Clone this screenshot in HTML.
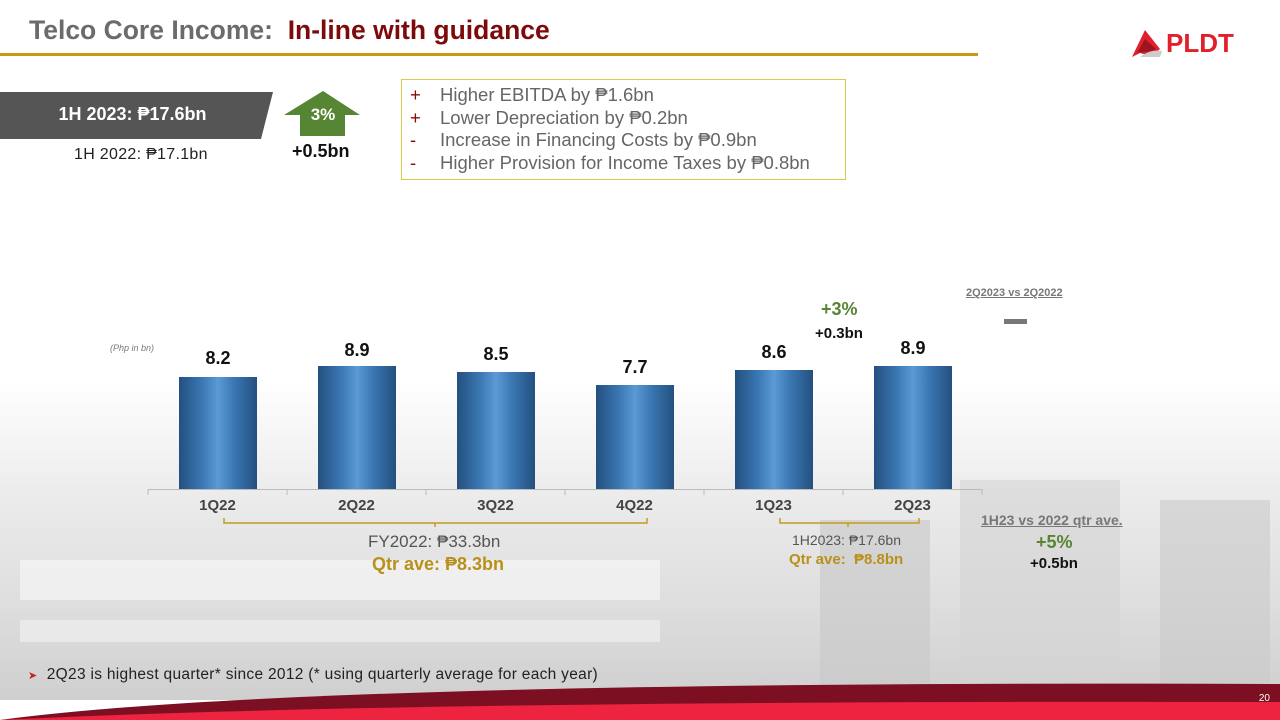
<!DOCTYPE html>
<html><head><meta charset="utf-8"><style>
*{margin:0;padding:0;box-sizing:border-box}
body{width:1280px;height:720px;overflow:hidden;position:relative;background:#fff;font-family:"Liberation Sans",Arial,sans-serif}
.a{position:absolute;white-space:nowrap}
.bar{position:absolute;width:78px;background:linear-gradient(90deg,#24507f 0%,#3b78b4 30%,#5b9ad6 50%,#3b78b4 70%,#24507f 100%)}
.v{position:absolute;width:78px;text-align:center;font-weight:bold;font-size:18px;color:#111}
.q{position:absolute;width:139px;text-align:center;font-weight:bold;font-size:15px;color:#444}
</style></head><body>
<div class="a" style="left:0;top:380px;width:1280px;height:320px;background:linear-gradient(180deg,rgba(255,255,255,1) 0%,rgba(236,236,236,1) 35%,#dedede 70%,#cfcfcf 100%)"></div>
<div class="a" style="left:20px;top:560px;width:640px;height:40px;background:#f2f2f2;opacity:.8"></div>
<div class="a" style="left:20px;top:620px;width:640px;height:22px;background:#ececec;opacity:.8"></div>
<div class="a" style="left:820px;top:520px;width:110px;height:170px;background:#c8c8c8;opacity:.6"></div>
<div class="a" style="left:960px;top:480px;width:160px;height:210px;background:#d4d4d4;opacity:.6"></div>
<div class="a" style="left:1160px;top:500px;width:110px;height:190px;background:#cacaca;opacity:.6"></div>
<svg class="a" style="left:0;top:680px" width="1280" height="40">
<path d="M0 40 Q300 0 1280 4 L1280 40 Z" fill="#7d0f22"/>
<path d="M0 40 Q400 20 1280 22 L1280 40 Z" fill="#ee2340"/>
</svg>
<div class="a" style="right:10px;top:693px;font-size:10px;color:#fff">20</div>

<div class="a" style="left:29px;top:15px;font-size:26.5px;font-weight:bold;color:#6b6b6b">Telco Core Income:&nbsp; <span style="color:#7d0a0a">In-line with guidance</span></div>
<div class="a" style="left:0;top:53px;width:978px;height:3px;background:#c39c1c"></div>
<svg class="a" style="left:1130px;top:27px" width="34" height="32"><path d="M2 30 L15 3 L30 22 Q22 30 10 26 Z" fill="#e2202c"/><path d="M6 28 L15 12 L26 22 Q18 26 8 25Z" fill="#9c1520"/><path d="M10 30 Q20 22 32 24 L30 30 Z" fill="#ccc"/></svg>
<div class="a" style="left:1166px;top:28px;font-size:26px;font-weight:bold;color:#e2202c">PLDT</div>

<svg class="a" style="left:0;top:92px" width="275" height="47"><path d="M0 0 H273 L261 47 H0Z" fill="#555"/></svg>
<div class="a" style="left:0;top:104px;width:265px;text-align:center;font-size:18px;font-weight:bold;color:#fff">1H 2023: ₱17.6bn</div>
<div class="a" style="left:74px;top:146px;font-size:16px;letter-spacing:0.3px;color:#222">1H 2022: ₱17.1bn</div>
<svg class="a" style="left:284px;top:90px" width="78" height="47"><path d="M0 25 L39 1 L76 25 L61 25 L61 46 L16 46 L16 25Z" fill="#568533"/></svg>
<div class="a" style="left:300px;top:105px;width:46px;text-align:center;font-size:17px;font-weight:bold;color:#fff">3%</div>
<div class="a" style="left:292px;top:141px;font-size:18px;font-weight:bold;color:#111">+0.5bn</div>

<div class="a" style="left:401px;top:79px;width:445px;height:101px;border:1px solid #d6cc45"></div>
<div class="a" style="left:410px;top:84px;font-size:18.5px;line-height:22.5px;color:#666">
<div><span style="color:#8b0a0a;display:inline-block;width:30px">+</span>Higher EBITDA by ₱1.6bn</div>
<div><span style="color:#8b0a0a;display:inline-block;width:30px">+</span>Lower Depreciation by ₱0.2bn</div>
<div><span style="color:#8b0a0a;display:inline-block;width:30px">-</span>Increase in Financing Costs by ₱0.9bn</div>
<div><span style="color:#8b0a0a;display:inline-block;width:30px">-</span>Higher Provision for Income Taxes by ₱0.8bn</div>
</div>

<div class="a" style="left:110px;top:343px;font-size:9px;font-style:italic;color:#777">(Php in bn)</div>
<div class="bar" style="left:179px;top:377px;height:112px"></div>
<div class="bar" style="left:318px;top:366px;height:123px"></div>
<div class="bar" style="left:457px;top:372px;height:117px"></div>
<div class="bar" style="left:596px;top:385px;height:104px"></div>
<div class="bar" style="left:735px;top:370px;height:119px"></div>
<div class="bar" style="left:874px;top:366px;height:123px"></div>
<div class="v" style="left:179px;top:348px">8.2</div>
<div class="v" style="left:318px;top:340px">8.9</div>
<div class="v" style="left:457px;top:344px">8.5</div>
<div class="v" style="left:596px;top:357px">7.7</div>
<div class="v" style="left:735px;top:342px">8.6</div>
<div class="v" style="left:874px;top:338px">8.9</div>
<div class="a" style="left:148px;top:489px;width:834px;height:1px;background:#bbb"></div>
<svg class="a" style="left:147px;top:489px" width="837" height="7"><g stroke="#bbb"><line x1="1" y1="0" x2="1" y2="6"/><line x1="140" y1="0" x2="140" y2="6"/><line x1="279" y1="0" x2="279" y2="6"/><line x1="418" y1="0" x2="418" y2="6"/><line x1="557" y1="0" x2="557" y2="6"/><line x1="696" y1="0" x2="696" y2="6"/><line x1="835" y1="0" x2="835" y2="6"/></g></svg>
<div class="q" style="left:148px;top:497px">1Q22</div>
<div class="q" style="left:287px;top:497px">2Q22</div>
<div class="q" style="left:426px;top:497px">3Q22</div>
<div class="q" style="left:565px;top:497px">4Q22</div>
<div class="q" style="left:704px;top:497px">1Q23</div>
<div class="q" style="left:843px;top:497px">2Q23</div>

<svg class="a" style="left:220px;top:515px" width="440" height="15"><path d="M4 3 V8 H427 V3 M215 8 V12" stroke="#c39c1c" fill="none" stroke-width="1.5"/></svg>
<div class="a" style="left:368px;top:532px;font-size:17px;color:#555">FY2022: ₱33.3bn</div>
<div class="a" style="left:372px;top:554px;font-size:18px;font-weight:bold;color:#b8901a">Qtr ave: ₱8.3bn</div>
<svg class="a" style="left:778px;top:515px" width="144" height="15"><path d="M2 3 V8 H141 V3 M70 8 V12" stroke="#c39c1c" fill="none" stroke-width="1.5"/></svg>
<div class="a" style="left:792px;top:532px;font-size:14px;color:#555">1H2023: ₱17.6bn</div>
<div class="a" style="left:789px;top:551px;font-size:15px;font-weight:bold;color:#b8901a">Qtr ave:&nbsp; ₱8.8bn</div>

<div class="a" style="left:821px;top:299px;font-size:18px;font-weight:bold;color:#568533">+3%</div>
<div class="a" style="left:815px;top:325px;font-size:15px;font-weight:bold;color:#111">+0.3bn</div>
<div class="a" style="left:966px;top:287px;font-size:11px;font-weight:bold;color:#777;text-decoration:underline">2Q2023 vs 2Q2022</div>
<div class="a" style="left:1004px;top:319px;width:23px;height:5px;background:#777"></div>
<div class="a" style="left:981px;top:512px;font-size:14px;font-weight:bold;color:#777;text-decoration:underline">1H23 vs 2022 qtr ave.</div>
<div class="a" style="left:1036px;top:532px;font-size:18px;font-weight:bold;color:#568533">+5%</div>
<div class="a" style="left:1030px;top:555px;font-size:15px;font-weight:bold;color:#111">+0.5bn</div>

<div class="a" style="left:28px;top:666px;font-size:15.5px;letter-spacing:0.3px;color:#222"><span style="color:#c0202c;font-size:11px">➤</span>&nbsp; 2Q23 is highest quarter* since 2012 (* using quarterly average for each year)</div>
</body></html>
